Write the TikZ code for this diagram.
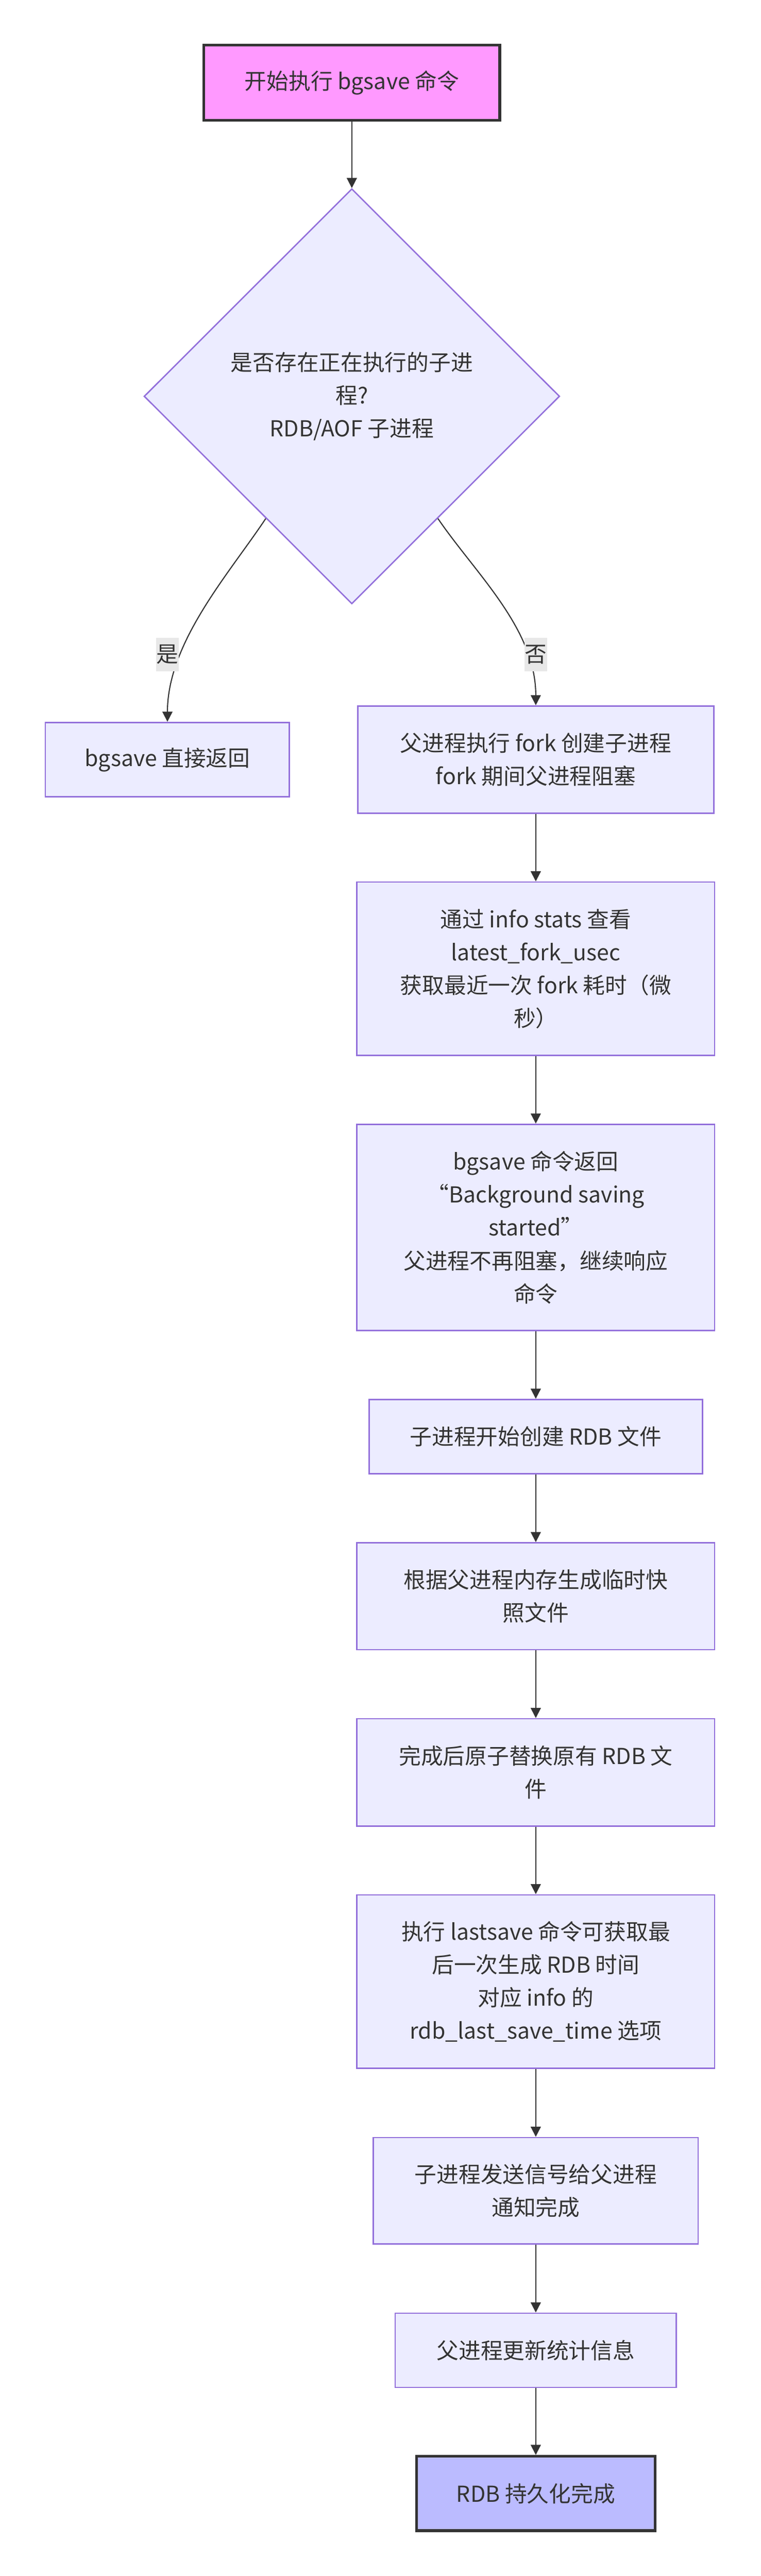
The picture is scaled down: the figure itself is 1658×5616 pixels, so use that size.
\documentclass[tikz,border=0pt]{standalone}
\usepackage{fontspec}
\setmainfont{Noto Sans CJK SC}
\usetikzlibrary{shapes.geometric,arrows.meta,positioning,calc}
\definecolor{procfill}{HTML}{ECECFF}
\definecolor{procline}{HTML}{9370DB}
\definecolor{startfill}{HTML}{FF99FF}
\definecolor{endfill}{HTML}{BBBBFF}
\definecolor{darkline}{HTML}{333333}
\definecolor{lblfill}{HTML}{E8E8E8}

\begin{document}
\begin{tikzpicture}[x=0.5pt, y=-0.5pt]
  \tikzstyle{proc}=[rectangle, draw=procline, fill=procfill, line width=1.5pt, inner sep=0pt, align=center, text=darkline, font=\fontsize{24}{36}\selectfont]
  \tikzstyle{term}=[proc, draw=darkline, line width=3pt]
  \tikzstyle{decision}=[diamond, draw=procline, fill=procfill, line width=1.5pt, inner sep=0pt, align=center, text=darkline, font=\fontsize{24}{36}\selectfont]
  \tikzstyle{flow}=[-{Triangle[length=11pt,width=11pt]}, draw=darkline, line width=1.2pt]
  \tikzstyle{lbl}=[rectangle, fill=lblfill, inner sep=0pt, minimum width=24.5pt, minimum height=36pt, text=darkline, font=\fontsize{24}{36}\selectfont]

  \useasboundingbox (0,0) rectangle (1658,5616);

  \node[term, fill=startfill, minimum width=322.5pt, minimum height=82pt] (start) at (767,180) {开始执行 bgsave 命令};
  \node[decision, minimum width=453pt, minimum height=452.5pt] (check) at (767,864) {是否存在正在执行的子进\\程?\\RDB/AOF 子进程};
  \node[proc, minimum width=266pt, minimum height=81pt] (direct) at (365,1656) {bgsave 直接返回};
  \node[proc, minimum width=388pt, minimum height=117pt] (fork) at (1168,1656) {父进程执行 fork 创建子进程\\fork 期间父进程阻塞};
  \node[proc, minimum width=390pt, minimum height=189pt] (stats) at (1168,2112) {通过 info stats 查看\\latest\_fork\_usec\\获取最近一次 fork 耗时（微\\秒）};
  \node[proc, minimum width=390pt, minimum height=225pt] (reply) at (1168,2676) {bgsave 命令返回\\“Background saving\\started”\\父进程不再阻塞，继续响应\\命令};
  \node[proc, minimum width=363.5pt, minimum height=81pt] (child) at (1168,3132) {子进程开始创建 RDB 文件};
  \node[proc, minimum width=390pt, minimum height=116.5pt] (snap) at (1168,3480) {根据父进程内存生成临时快\\照文件};
  \node[proc, minimum width=390pt, minimum height=117pt] (swap) at (1168,3864) {完成后原子替换原有 RDB 文\\件};
  \node[proc, minimum width=390pt, minimum height=189pt] (lastsave) at (1168,4320) {执行 lastsave 命令可获取最\\后一次生成 RDB 时间\\对应 info 的\\rdb\_last\_save\_time 选项};
  \node[proc, minimum width=354pt, minimum height=116pt] (signal) at (1168,4776) {子进程发送信号给父进程\\通知完成};
  \node[proc, minimum width=306.5pt, minimum height=81pt] (update) at (1168,5124) {父进程更新统计信息};
  \node[term, fill=endfill, minimum width=260pt, minimum height=81pt] (done) at (1168,5436) {RDB 持久化完成};

  \coordinate (yesout) at ($(check.west)!0.587!(check.south)$);
  \coordinate (noout) at ($(check.east)!0.587!(check.south)$);

  \draw[flow] (start.south) -- (check.north);
  \draw[flow] (yesout) .. controls (500,1250) and (365,1400) .. (direct.north);
  \draw[flow] (noout) .. controls (1036,1250) and (1168,1370) .. (fork.north);
  \draw[flow] (fork) -- (stats);
  \draw[flow] (stats) -- (reply);
  \draw[flow] (reply) -- (child);
  \draw[flow] (child) -- (snap);
  \draw[flow] (snap) -- (swap);
  \draw[flow] (swap) -- (lastsave);
  \draw[flow] (lastsave) -- (signal);
  \draw[flow] (signal) -- (update);
  \draw[flow] (update) -- (done);

  \node[lbl] (yes) at (365,1427) {是};
  \node[lbl] (no) at (1168,1427) {否};
\end{tikzpicture}
\end{document}
